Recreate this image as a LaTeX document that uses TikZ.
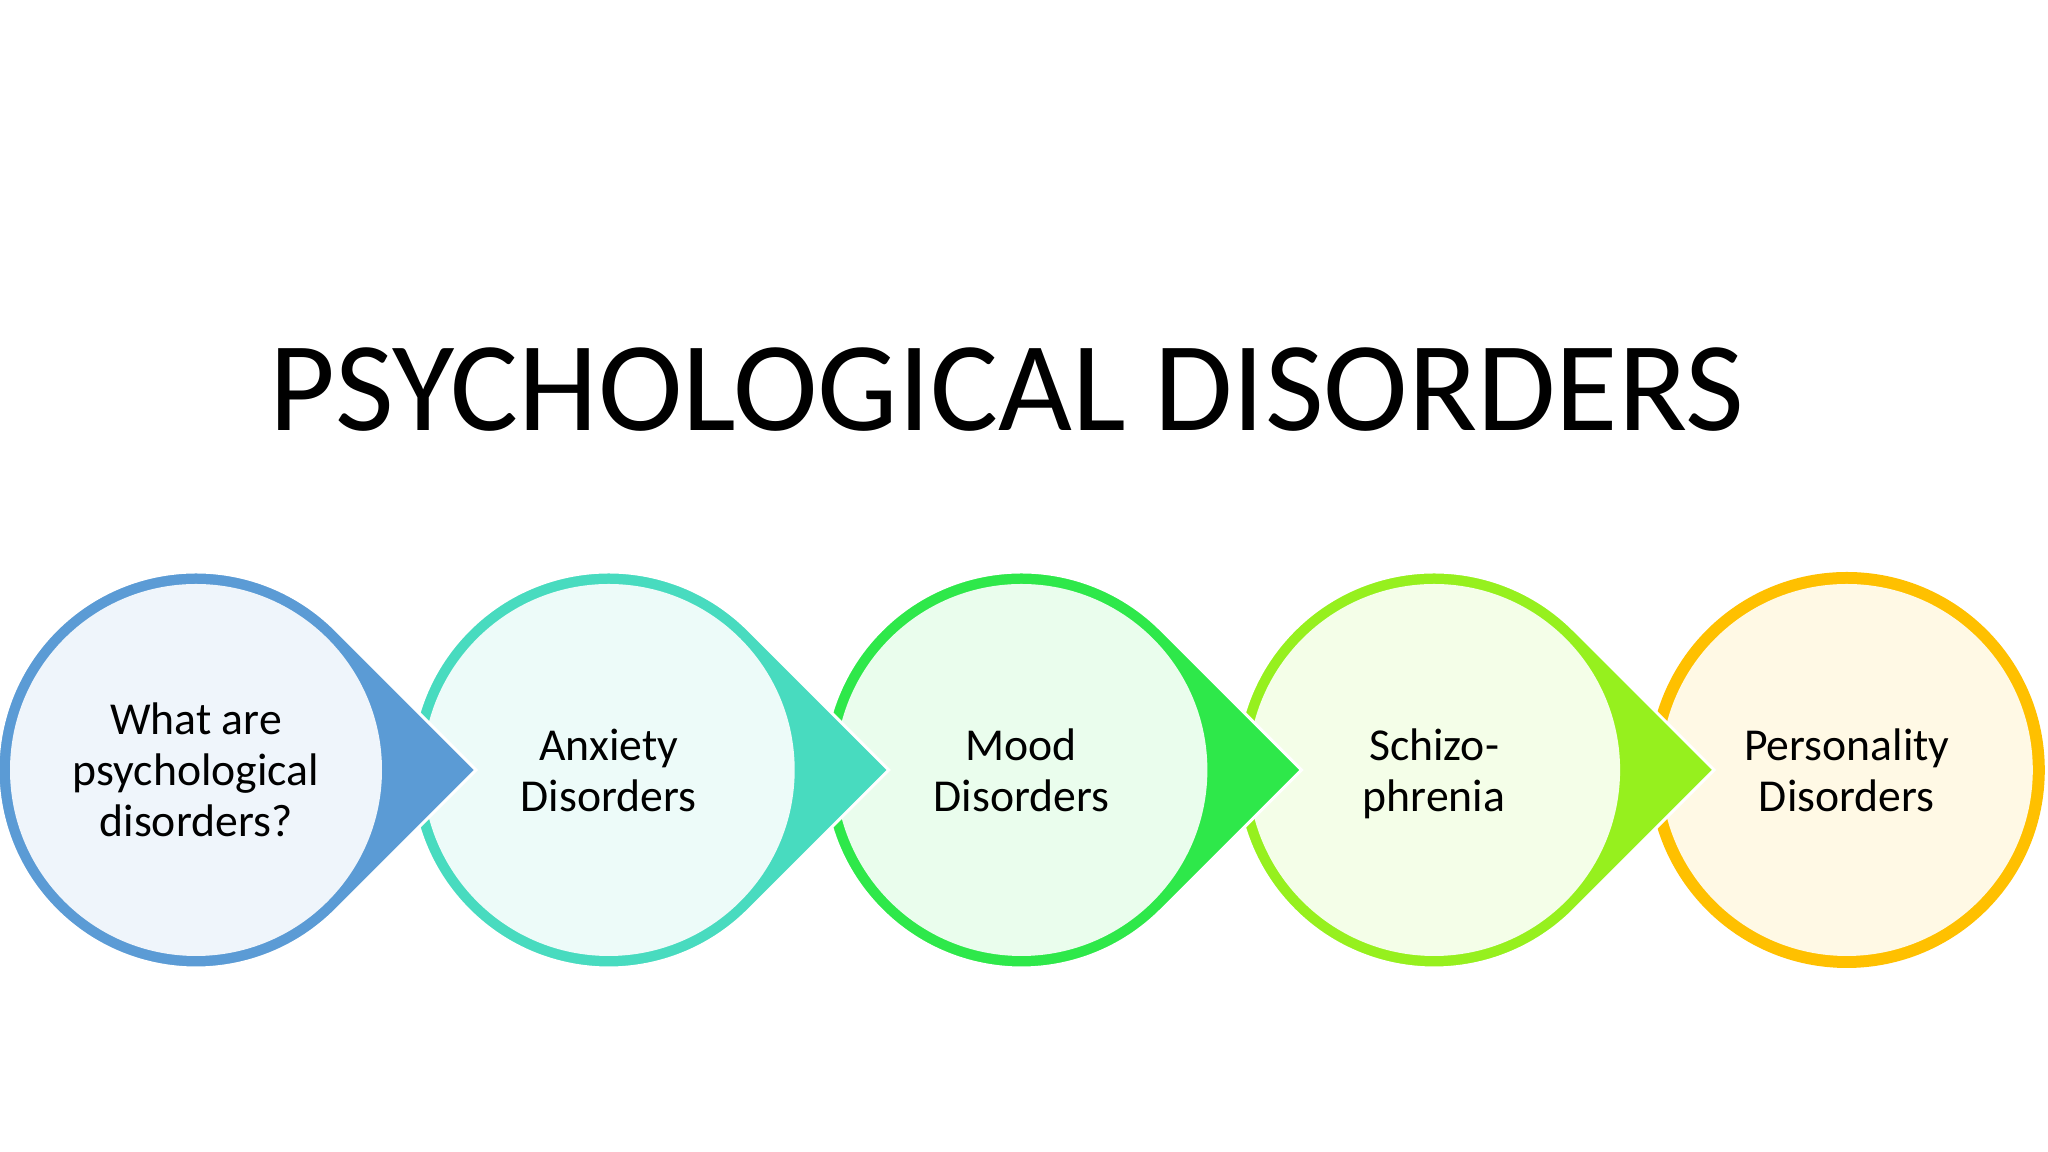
\documentclass[tikz,border=0pt]{standalone}
\usepackage{fontspec}
\setmainfont{Carlito}
\usetikzlibrary{calc}
\definecolor{stageA}{HTML}{5B9BD5}
\definecolor{stageB}{HTML}{48DBBF}
\definecolor{stageC}{HTML}{2EE84A}
\definecolor{stageD}{HTML}{96F01E}
\definecolor{stageE}{HTML}{FFC000}
\tikzset{
  stage/.style={
    shape = circle,
    inner sep = 0pt,
    minimum size = 3.72cm,
    align = center,
    font = \fontsize{13}{14.5}\selectfont
  },
  pointer/.style={
    draw = white,
    line width = 0.03cm
  },
  heading/.style={
    anchor = base,
    font = \fontsize{36.3}{40}\selectfont
  }
}
\begin{document}
\begin{tikzpicture}
            \useasboundingbox[fill=white] (0,0) rectangle (20.48,11.52);
            \node[heading] (title) at (10.07,7.21) {PSYCHOLOGICAL DISORDERS};
            % drawn right to left so each pointer lies over the next circle
            \foreach \i/\col/\txt in {5/stageE/{Personality\\Disorders},4/stageD/{Schizo-\\\smash{phrenia}},3/stageC/{Mood\\Disorders},2/stageB/{Anxiety\\Disorders},1/stageA/{What are\\psychological\\disorders?}}{
                    \coordinate (c\i) at ({1.96+(\i-1)*4.127},3.82);
                    \ifnum\i<5
                        \fill[\col, pointer] ($(c\i)+(45:1.98)$) -- ($(c\i)+(2.80,0)$) -- ($(c\i)+(-45:1.98)$) arc[start angle=-45, end angle=-315, radius=1.98] -- cycle;
                    \else
                        \fill[\col] (c\i) circle[radius=1.98];
                    \fi
                    \node[stage, fill=\col!10] (s\i) at (c\i) {\txt};
                }
        \end{tikzpicture}
\end{document}
